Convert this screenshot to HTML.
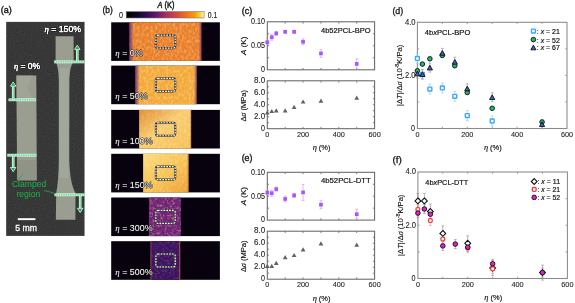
<!DOCTYPE html>
<html><head><meta charset="utf-8"><style>
html,body{margin:0;padding:0;background:#fff;width:575px;height:303px;overflow:hidden}
svg{display:block;will-change:transform}
text{-webkit-font-smoothing:antialiased}
</style></head><body>
<svg width="575" height="303" viewBox="0 0 575 303" font-family='"Liberation Sans", sans-serif'>
<defs>
<linearGradient id="inferno" x1="0" x2="1" y1="0" y2="0">
<stop offset="0" stop-color="#000004"/>
<stop offset="0.15" stop-color="#100828"/>
<stop offset="0.28" stop-color="#3a0c5a"/>
<stop offset="0.4" stop-color="#6a1a6a"/>
<stop offset="0.5" stop-color="#a52c60"/>
<stop offset="0.63" stop-color="#cf4446"/>
<stop offset="0.75" stop-color="#ed6925"/>
<stop offset="0.88" stop-color="#fb9b06"/>
<stop offset="0.95" stop-color="#f7d13d"/>
<stop offset="1" stop-color="#fcffa4"/>
</linearGradient>
<filter id="noise" x="0" y="0" width="100%" height="100%">
<feTurbulence type="fractalNoise" baseFrequency="0.9" numOctaves="2" seed="3"/>
<feColorMatrix type="matrix" values="0 0 0 0 0  0 0 0 0 0  0 0 0 0 0  0 0 0 -1.2 1.1"/>
<feComposite in2="SourceGraphic" operator="in"/>
</filter>
<linearGradient id="ledge" x1="0" x2="1"><stop offset="0" stop-color="#6a2a9a" stop-opacity="0.9"/><stop offset="1" stop-color="#6a2a9a" stop-opacity="0"/></linearGradient>
<linearGradient id="redge" x1="1" x2="0"><stop offset="0" stop-color="#7a2a8a" stop-opacity="0.8"/><stop offset="1" stop-color="#7a2a8a" stop-opacity="0"/></linearGradient>
<linearGradient id="hl2" x1="0" y1="0" x2="1" y2="1"><stop offset="0" stop-color="#d88030" stop-opacity="0.5"/><stop offset="0.45" stop-color="#ffe890" stop-opacity="0.6"/><stop offset="1" stop-color="#ffe070" stop-opacity="0.5"/></linearGradient>
<linearGradient id="hl3" x1="0" y1="0" x2="1" y2="1"><stop offset="0" stop-color="#fff0a0" stop-opacity="0.7"/><stop offset="0.5" stop-color="#ffe080" stop-opacity="0.35"/><stop offset="1" stop-color="#e88020" stop-opacity="0.4"/></linearGradient>
<filter id="noise3" x="0" y="0" width="100%" height="100%">
<feTurbulence type="fractalNoise" baseFrequency="0.4" numOctaves="2" seed="11"/>
<feColorMatrix type="matrix" values="0 0 0 0 0.92  0 0 0 0 0.4  0 0 0 0 0.28  0 0 0 -2.5 1.4"/>
<feComposite in2="SourceGraphic" operator="in"/>
</filter>
<filter id="noise2" x="0" y="0" width="100%" height="100%">
<feTurbulence type="fractalNoise" baseFrequency="0.45 0.3" numOctaves="2" seed="7"/>
<feColorMatrix type="matrix" values="0 0 0 0 1  0 0 0 0 0.97  0 0 0 0 0.7  0 0 0 -2.2 1.3"/>
<feComposite in2="SourceGraphic" operator="in"/>
</filter>
</defs>
<text x="0.80" y="13.42" font-size="9" text-anchor="start" fill="#111" stroke="#111" stroke-width="0.35" textLength="11.1" lengthAdjust="spacingAndGlyphs" >(a)</text>
<rect x="6.2" y="21.9" width="78.3" height="214" fill="#424242"/>
<rect x="6.2" y="21.9" width="78.3" height="214" fill="#000" filter="url(#noise)" opacity="0.3"/>
<polygon points="16.3,75.4 36.3,75.4 36.8,180.6 17.2,180.6" fill="#999e91"/>
<polygon points="16.6,75.6 33,75.6 27,88 33,100 16.8,100" fill="#a4a99c" opacity="0.55"/>
<polygon points="17,160 36,160 36.5,180 17.2,180" fill="#858a7d" opacity="0.5"/>
<path d="M55.6,36.3 L73.6,36.3 L73.6,62 Q69.8,66 69.4,80 L69.3,160 Q70,184 75.5,193 L75.4,219.8 L55.8,219.8 L56.2,193 Q58.5,182 58.8,160 L58.8,80 Q58.4,66 55.6,62 Z" fill="#999e91"/>
<rect x="59.5" y="68" width="9" height="110" fill="#b4b6b2" opacity="0.35"/>
<line x1="8.6" y1="99.8" x2="35.8" y2="99.8" stroke="#e4fbec" stroke-width="2.8"/>
<line x1="8.6" y1="99.8" x2="35.8" y2="99.8" stroke="#6fdc98" stroke-width="1.6"/>
<line x1="9.6" y1="99.8" x2="35.8" y2="99.8" stroke="#ffffff" stroke-width="0.9" stroke-dasharray="1 1.3"/>
<line x1="7.3" y1="155.2" x2="36.3" y2="155.2" stroke="#e4fbec" stroke-width="2.8"/>
<line x1="7.3" y1="155.2" x2="36.3" y2="155.2" stroke="#6fdc98" stroke-width="1.6"/>
<line x1="8.3" y1="155.2" x2="36.3" y2="155.2" stroke="#ffffff" stroke-width="0.9" stroke-dasharray="1 1.3"/>
<line x1="54" y1="61.9" x2="84.5" y2="61.9" stroke="#e4fbec" stroke-width="2.8"/>
<line x1="54" y1="61.9" x2="84.5" y2="61.9" stroke="#6fdc98" stroke-width="1.6"/>
<line x1="55" y1="61.9" x2="84.5" y2="61.9" stroke="#ffffff" stroke-width="0.9" stroke-dasharray="1 1.3"/>
<line x1="54.5" y1="194.8" x2="84.5" y2="194.8" stroke="#e4fbec" stroke-width="2.8"/>
<line x1="54.5" y1="194.8" x2="84.5" y2="194.8" stroke="#6fdc98" stroke-width="1.6"/>
<line x1="55.5" y1="194.8" x2="84.5" y2="194.8" stroke="#ffffff" stroke-width="0.9" stroke-dasharray="1 1.3"/>
<line x1="13.2" y1="99.8" x2="13.2" y2="86.2" stroke="#e4fbec" stroke-width="2.6"/>
<line x1="13.2" y1="99.8" x2="13.2" y2="86.2" stroke="#6fe49c" stroke-width="1.3"/>
<polygon points="10.5,86.2 15.899999999999999,86.2 13.2,82" fill="#10a855" stroke="#e4fbec" stroke-width="0.8" stroke-linejoin="round"/>
<line x1="13.2" y1="155.2" x2="13.2" y2="167.5" stroke="#e4fbec" stroke-width="2.6"/>
<line x1="13.2" y1="155.2" x2="13.2" y2="167.5" stroke="#6fe49c" stroke-width="1.3"/>
<polygon points="10.5,167.5 15.899999999999999,167.5 13.2,171.7" fill="#10a855" stroke="#e4fbec" stroke-width="0.8" stroke-linejoin="round"/>
<line x1="77.3" y1="61.9" x2="77.3" y2="49.400000000000006" stroke="#e4fbec" stroke-width="2.6"/>
<line x1="77.3" y1="61.9" x2="77.3" y2="49.400000000000006" stroke="#6fe49c" stroke-width="1.3"/>
<polygon points="74.6,49.400000000000006 80.0,49.400000000000006 77.3,45.2" fill="#10a855" stroke="#e4fbec" stroke-width="0.8" stroke-linejoin="round"/>
<line x1="80.2" y1="194.8" x2="80.2" y2="208.3" stroke="#e4fbec" stroke-width="2.6"/>
<line x1="80.2" y1="194.8" x2="80.2" y2="208.3" stroke="#6fe49c" stroke-width="1.3"/>
<polygon points="77.5,208.3 82.9,208.3 80.2,212.5" fill="#10a855" stroke="#e4fbec" stroke-width="0.8" stroke-linejoin="round"/>
<g fill="#fff" stroke="#151515" stroke-width="1.4" paint-order="stroke" stroke-linejoin="round">
<text x="13.9" y="68.7" font-size="8.6" textLength="26.3" lengthAdjust="spacingAndGlyphs"><tspan font-family="Liberation Serif" font-style="italic">η</tspan> = 0%</text>
<text x="13.9" y="68.7" font-size="8.6" textLength="26.3" lengthAdjust="spacingAndGlyphs" stroke="#fff" stroke-width="0.3"><tspan font-family="Liberation Serif" font-style="italic">η</tspan> = 0%</text>
<text x="44.5" y="31.6" font-size="8.6" textLength="36.6" lengthAdjust="spacingAndGlyphs"><tspan font-family="Liberation Serif" font-style="italic">η</tspan> = 150%</text>
<text x="44.5" y="31.6" font-size="8.6" textLength="36.6" lengthAdjust="spacingAndGlyphs" stroke="#fff" stroke-width="0.3"><tspan font-family="Liberation Serif" font-style="italic">η</tspan> = 150%</text>
</g>
<text x="11.90" y="187.28" font-size="8.6" text-anchor="start" fill="#20a84a" stroke="#20a84a" stroke-width="0.1" textLength="34.3" lengthAdjust="spacingAndGlyphs" >Clamped</text>
<text x="28.40" y="197.48" font-size="8.6" text-anchor="middle" fill="#20a84a" stroke="#20a84a" stroke-width="0.1" textLength="23.8" lengthAdjust="spacingAndGlyphs" >region</text>
<line x1="18.5" y1="180" x2="23" y2="173.5" stroke="#22aa48" stroke-width="0.7"/>
<line x1="44" y1="190.5" x2="54" y2="193" stroke="#22aa48" stroke-width="0.8"/>
<rect x="17.8" y="218.2" width="17.6" height="1.9" fill="#fff"/>
<text x="15.20" y="230.82" font-size="9" text-anchor="start" fill="#fff" stroke="#fff" stroke-width="0.3" textLength="21.7" lengthAdjust="spacingAndGlyphs" >5 mm</text>
<text x="102.40" y="13.12" font-size="9" text-anchor="start" fill="#111" stroke="#111" stroke-width="0.3" textLength="10.4" lengthAdjust="spacingAndGlyphs" >(b)</text>
<text x="157.6" y="8.4" font-size="8.5" textLength="16.8" lengthAdjust="spacingAndGlyphs" stroke="#111" stroke-width="0.4"><tspan font-style="italic">A</tspan> (K)</text>
<rect x="126.2" y="11.6" width="77.9" height="6.4" fill="url(#inferno)" stroke="#777" stroke-width="0.6"/>
<text x="119.00" y="18.08" font-size="8.6" text-anchor="start" fill="#111" stroke="#111" stroke-width="0.1" textLength="4.0" lengthAdjust="spacingAndGlyphs" >0</text>
<text x="207.80" y="18.08" font-size="8.6" text-anchor="start" fill="#111" stroke="#111" stroke-width="0.1" textLength="9.5" lengthAdjust="spacingAndGlyphs" >0.1</text>
<rect x="111.2" y="22.3" width="108.7" height="38.6" fill="#07020e"/>
<rect x="129.6" y="22.3" width="71.70" height="38.6" fill="#e97f2a"/>
<rect x="129.6" y="22.3" width="71.70" height="38.6" fill="#fff8b0" filter="url(#noise2)" opacity="0.35"/>
<rect x="129.6" y="22.3" width="4" height="38.6" fill="url(#ledge)"/>
<rect x="198.80" y="22.3" width="2.5" height="38.6" fill="url(#redge)"/>
<rect x="155.9" y="35.10" width="19.3" height="13" rx="2" fill="none" stroke="#333" stroke-width="2.1"/>
<rect x="155.9" y="35.10" width="19.3" height="13" rx="2" fill="none" stroke="#fff" stroke-width="1.15" stroke-dasharray="1.7 1.1"/>
<text x="115.3" y="56.00" font-size="8.9" fill="#fff" stroke="#1a1a1a" stroke-width="1.0" paint-order="stroke" stroke-linejoin="round"><tspan font-family="Liberation Serif" font-style="italic">η</tspan> = 0%</text>
<rect x="111.2" y="65.6" width="108.7" height="38.6" fill="#07020e"/>
<rect x="135.6" y="65.6" width="60.90" height="38.6" fill="#f3a838"/>
<rect x="135.6" y="65.6" width="60.90" height="38.6" fill="#fff8b0" filter="url(#noise2)" opacity="0.4"/>
<rect x="135.6" y="65.6" width="4" height="38.6" fill="url(#ledge)"/>
<rect x="194.00" y="65.6" width="2.5" height="38.6" fill="url(#redge)"/>
<rect x="155.9" y="78.40" width="19.3" height="13" rx="2" fill="none" stroke="#333" stroke-width="2.1"/>
<rect x="155.9" y="78.40" width="19.3" height="13" rx="2" fill="none" stroke="#fff" stroke-width="1.15" stroke-dasharray="1.7 1.1"/>
<text x="115.3" y="99.30" font-size="8.9" fill="#fff" stroke="#1a1a1a" stroke-width="1.0" paint-order="stroke" stroke-linejoin="round"><tspan font-family="Liberation Serif" font-style="italic">η</tspan> = 50%</text>
<rect x="111.2" y="109.9" width="108.7" height="38.6" fill="#07020e"/>
<rect x="139.2" y="109.9" width="51.90" height="38.6" fill="#eea040"/>
<rect x="139.2" y="109.9" width="51.90" height="38.6" fill="#fff8b0" filter="url(#noise2)" opacity="0.45"/>
<rect x="139.2" y="109.9" width="51.90" height="38.6" fill="url(#hl2)"/>
<rect x="189.60" y="109.9" width="1.5" height="38.6" fill="url(#redge)" opacity="0.6"/>
<rect x="155.9" y="122.70" width="19.3" height="13" rx="2" fill="none" stroke="#333" stroke-width="2.1"/>
<rect x="155.9" y="122.70" width="19.3" height="13" rx="2" fill="none" stroke="#fff" stroke-width="1.15" stroke-dasharray="1.7 1.1"/>
<text x="115.3" y="143.60" font-size="8.9" fill="#fff" stroke="#1a1a1a" stroke-width="1.0" paint-order="stroke" stroke-linejoin="round"><tspan font-family="Liberation Serif" font-style="italic">η</tspan> = 100%</text>
<rect x="111.2" y="153.8" width="108.7" height="38.6" fill="#07020e"/>
<rect x="143.2" y="153.8" width="45.30" height="38.6" fill="#f2b440"/>
<rect x="143.2" y="153.8" width="45.30" height="38.6" fill="#fff8b0" filter="url(#noise2)" opacity="0.4"/>
<rect x="143.2" y="153.8" width="45.30" height="38.6" fill="url(#hl3)"/>
<rect x="187.00" y="153.8" width="1.5" height="38.6" fill="url(#redge)" opacity="0.6"/>
<rect x="155.9" y="166.60" width="19.3" height="13" rx="2" fill="none" stroke="#333" stroke-width="2.1"/>
<rect x="155.9" y="166.60" width="19.3" height="13" rx="2" fill="none" stroke="#fff" stroke-width="1.15" stroke-dasharray="1.7 1.1"/>
<text x="115.3" y="187.50" font-size="8.9" fill="#fff" stroke="#1a1a1a" stroke-width="1.0" paint-order="stroke" stroke-linejoin="round"><tspan font-family="Liberation Serif" font-style="italic">η</tspan> = 150%</text>
<rect x="111.2" y="197.5" width="108.7" height="38.6" fill="#07020e"/>
<rect x="148.9" y="197.5" width="32.00" height="38.6" fill="#6a2278"/>
<rect x="148.9" y="197.5" width="32.00" height="38.6" fill="#fff8b0" filter="url(#noise2)" opacity="0.0"/>
<rect x="148.9" y="197.5" width="32.00" height="38.6" fill="#e8603a" filter="url(#noise3)" opacity="0.55"/>
<rect x="155.9" y="210.30" width="19.3" height="13" rx="2" fill="none" stroke="#333" stroke-width="2.1"/>
<rect x="155.9" y="210.30" width="19.3" height="13" rx="2" fill="none" stroke="#fff" stroke-width="1.15" stroke-dasharray="1.7 1.1"/>
<text x="115.3" y="231.20" font-size="8.9" fill="#fff" stroke="#1a1a1a" stroke-width="1.0" paint-order="stroke" stroke-linejoin="round"><tspan font-family="Liberation Serif" font-style="italic">η</tspan> = 300%</text>
<rect x="111.2" y="241.2" width="108.7" height="38.6" fill="#07020e"/>
<rect x="150.5" y="241.2" width="29.70" height="38.6" fill="#3a1462"/>
<rect x="150.5" y="241.2" width="29.70" height="38.6" fill="#fff8b0" filter="url(#noise2)" opacity="0.0"/>
<rect x="150.5" y="241.2" width="29.70" height="38.6" fill="#a03070" filter="url(#noise3)" opacity="0.22"/>
<rect x="150.5" y="241.2" width="0.9" height="38.6" fill="#a03a50"/>
<rect x="179.30" y="241.2" width="0.9" height="38.6" fill="#c05a48"/>
<rect x="155.9" y="254.00" width="19.3" height="13" rx="2" fill="none" stroke="#333" stroke-width="2.1"/>
<rect x="155.9" y="254.00" width="19.3" height="13" rx="2" fill="none" stroke="#fff" stroke-width="1.15" stroke-dasharray="1.7 1.1"/>
<text x="115.3" y="274.90" font-size="8.9" fill="#fff" stroke="#1a1a1a" stroke-width="1.0" paint-order="stroke" stroke-linejoin="round"><tspan font-family="Liberation Serif" font-style="italic">η</tspan> = 500%</text>
<text x="241.70" y="13.72" font-size="9" text-anchor="start" fill="#111" stroke="#111" stroke-width="0.35" textLength="10.5" lengthAdjust="spacingAndGlyphs" >(c)</text>
<text x="241.70" y="161.12" font-size="9" text-anchor="start" fill="#111" stroke="#111" stroke-width="0.35" textLength="10.7" lengthAdjust="spacingAndGlyphs" >(e)</text>
<rect x="267.3" y="21.8" width="107.30" height="48.00" fill="none" stroke="#666" stroke-width="1.05"/>
<path d="M285.18,69.8v-1.8M285.18,21.8v1.8M303.07,69.8v-1.8M303.07,21.8v1.8M320.95,69.8v-1.8M320.95,21.8v1.8M338.83,69.8v-1.8M338.83,21.8v1.8M356.72,69.8v-1.8M356.72,21.8v1.8M267.3,33.80h1.8M374.6,33.80h-1.8M267.3,45.80h1.8M374.6,45.80h-1.8M267.3,57.80h1.8M374.6,57.80h-1.8" stroke="#666" stroke-width="0.8" fill="none"/>
<text x="265.10" y="24.11" font-size="8.4" text-anchor="end" fill="#1e1e1e" stroke="#1e1e1e" stroke-width="0.1" textLength="14" lengthAdjust="spacingAndGlyphs" >0.10</text>
<text x="265.10" y="48.11" font-size="8.4" text-anchor="end" fill="#1e1e1e" stroke="#1e1e1e" stroke-width="0.1" textLength="14" lengthAdjust="spacingAndGlyphs" >0.05</text>
<text x="264.90" y="72.01" font-size="8.4" text-anchor="end" fill="#1e1e1e" stroke="#1e1e1e" stroke-width="0.1" textLength="4.0" lengthAdjust="spacingAndGlyphs" >0</text>
<text transform="translate(246.3,45.80) rotate(-90)" font-size="8" text-anchor="middle" stroke="#111" stroke-width="0.15" fill="#111"><tspan font-style="italic">A</tspan> (K)</text>
<rect x="267.3" y="172.3" width="107.30" height="47.80" fill="none" stroke="#666" stroke-width="1.05"/>
<path d="M285.18,220.1v-1.8M285.18,172.3v1.8M303.07,220.1v-1.8M303.07,172.3v1.8M320.95,220.1v-1.8M320.95,172.3v1.8M338.83,220.1v-1.8M338.83,172.3v1.8M356.72,220.1v-1.8M356.72,172.3v1.8M267.3,184.25h1.8M374.6,184.25h-1.8M267.3,196.20h1.8M374.6,196.20h-1.8M267.3,208.15h1.8M374.6,208.15h-1.8" stroke="#666" stroke-width="0.8" fill="none"/>
<text x="265.10" y="174.61" font-size="8.4" text-anchor="end" fill="#1e1e1e" stroke="#1e1e1e" stroke-width="0.1" textLength="14" lengthAdjust="spacingAndGlyphs" >0.10</text>
<text x="265.10" y="198.51" font-size="8.4" text-anchor="end" fill="#1e1e1e" stroke="#1e1e1e" stroke-width="0.1" textLength="14" lengthAdjust="spacingAndGlyphs" >0.05</text>
<text x="264.90" y="222.31" font-size="8.4" text-anchor="end" fill="#1e1e1e" stroke="#1e1e1e" stroke-width="0.1" textLength="4.0" lengthAdjust="spacingAndGlyphs" >0</text>
<text transform="translate(246.3,196.20) rotate(-90)" font-size="8" text-anchor="middle" stroke="#111" stroke-width="0.15" fill="#111"><tspan font-style="italic">A</tspan> (K)</text>
<rect x="267.3" y="80.8" width="107.30" height="47.90" fill="none" stroke="#666" stroke-width="1.05"/>
<path d="M285.18,128.7v-1.8M285.18,80.8v1.8M303.07,128.7v-1.8M303.07,80.8v1.8M320.95,128.7v-1.8M320.95,80.8v1.8M338.83,128.7v-1.8M338.83,80.8v1.8M356.72,128.7v-1.8M356.72,80.8v1.8M267.3,86.79h1.8M374.6,86.79h-1.8M267.3,92.77h1.8M374.6,92.77h-1.8M267.3,98.76h1.8M374.6,98.76h-1.8M267.3,104.75h1.8M374.6,104.75h-1.8M267.3,110.74h1.8M374.6,110.74h-1.8M267.3,116.72h1.8M374.6,116.72h-1.8M267.3,122.71h1.8M374.6,122.71h-1.8" stroke="#666" stroke-width="0.8" fill="none"/>
<text x="265.30" y="83.01" font-size="8.4" text-anchor="end" fill="#1e1e1e" stroke="#1e1e1e" stroke-width="0.1" textLength="11.2" lengthAdjust="spacingAndGlyphs" >8.0</text>
<text x="265.30" y="94.98" font-size="8.4" text-anchor="end" fill="#1e1e1e" stroke="#1e1e1e" stroke-width="0.1" textLength="11.2" lengthAdjust="spacingAndGlyphs" >6.0</text>
<text x="265.30" y="106.96" font-size="8.4" text-anchor="end" fill="#1e1e1e" stroke="#1e1e1e" stroke-width="0.1" textLength="11.2" lengthAdjust="spacingAndGlyphs" >4.0</text>
<text x="265.30" y="118.93" font-size="8.4" text-anchor="end" fill="#1e1e1e" stroke="#1e1e1e" stroke-width="0.1" textLength="11.2" lengthAdjust="spacingAndGlyphs" >2.0</text>
<text x="264.90" y="130.91" font-size="8.4" text-anchor="end" fill="#1e1e1e" stroke="#1e1e1e" stroke-width="0.1" textLength="4.0" lengthAdjust="spacingAndGlyphs" >0</text>
<text transform="translate(246.4,105.75) rotate(-90)" font-size="7.8" text-anchor="middle" fill="#111" stroke="#111" stroke-width="0.15" textLength="31.6" lengthAdjust="spacingAndGlyphs">Δ<tspan font-family="Liberation Serif" font-style="italic">σ</tspan> (MPa)</text>
<text x="267.30" y="136.56" font-size="8" text-anchor="middle" fill="#1e1e1e" stroke="#1e1e1e" stroke-width="0.1" textLength="4.0" lengthAdjust="spacingAndGlyphs" >0</text>
<text x="303.07" y="136.56" font-size="8" text-anchor="middle" fill="#1e1e1e" stroke="#1e1e1e" stroke-width="0.1" textLength="12.2" lengthAdjust="spacingAndGlyphs" >200</text>
<text x="338.83" y="136.56" font-size="8" text-anchor="middle" fill="#1e1e1e" stroke="#1e1e1e" stroke-width="0.1" textLength="12.2" lengthAdjust="spacingAndGlyphs" >400</text>
<text x="374.60" y="136.56" font-size="8" text-anchor="middle" fill="#1e1e1e" stroke="#1e1e1e" stroke-width="0.1" textLength="12.2" lengthAdjust="spacingAndGlyphs" >600</text>
<text x="321.55" y="150.10" font-size="8" text-anchor="middle" fill="#222" stroke="#222" stroke-width="0.2" textLength="17.8" lengthAdjust="spacingAndGlyphs"><tspan font-family="Liberation Serif" font-style="italic" font-size="9">η</tspan> (%)</text>
<rect x="267.3" y="231.2" width="107.30" height="48.00" fill="none" stroke="#666" stroke-width="1.05"/>
<path d="M285.18,279.2v-1.8M285.18,231.2v1.8M303.07,279.2v-1.8M303.07,231.2v1.8M320.95,279.2v-1.8M320.95,231.2v1.8M338.83,279.2v-1.8M338.83,231.2v1.8M356.72,279.2v-1.8M356.72,231.2v1.8M267.3,237.20h1.8M374.6,237.20h-1.8M267.3,243.20h1.8M374.6,243.20h-1.8M267.3,249.20h1.8M374.6,249.20h-1.8M267.3,255.20h1.8M374.6,255.20h-1.8M267.3,261.20h1.8M374.6,261.20h-1.8M267.3,267.20h1.8M374.6,267.20h-1.8M267.3,273.20h1.8M374.6,273.20h-1.8" stroke="#666" stroke-width="0.8" fill="none"/>
<text x="265.30" y="233.41" font-size="8.4" text-anchor="end" fill="#1e1e1e" stroke="#1e1e1e" stroke-width="0.1" textLength="11.2" lengthAdjust="spacingAndGlyphs" >8.0</text>
<text x="265.30" y="245.41" font-size="8.4" text-anchor="end" fill="#1e1e1e" stroke="#1e1e1e" stroke-width="0.1" textLength="11.2" lengthAdjust="spacingAndGlyphs" >6.0</text>
<text x="265.30" y="257.41" font-size="8.4" text-anchor="end" fill="#1e1e1e" stroke="#1e1e1e" stroke-width="0.1" textLength="11.2" lengthAdjust="spacingAndGlyphs" >4.0</text>
<text x="265.30" y="269.41" font-size="8.4" text-anchor="end" fill="#1e1e1e" stroke="#1e1e1e" stroke-width="0.1" textLength="11.2" lengthAdjust="spacingAndGlyphs" >2.0</text>
<text x="264.90" y="281.41" font-size="8.4" text-anchor="end" fill="#1e1e1e" stroke="#1e1e1e" stroke-width="0.1" textLength="4.0" lengthAdjust="spacingAndGlyphs" >0</text>
<text transform="translate(246.4,256.20) rotate(-90)" font-size="7.8" text-anchor="middle" fill="#111" stroke="#111" stroke-width="0.15" textLength="31.6" lengthAdjust="spacingAndGlyphs">Δ<tspan font-family="Liberation Serif" font-style="italic">σ</tspan> (MPa)</text>
<text x="267.30" y="287.06" font-size="8" text-anchor="middle" fill="#1e1e1e" stroke="#1e1e1e" stroke-width="0.1" textLength="4.0" lengthAdjust="spacingAndGlyphs" >0</text>
<text x="303.07" y="287.06" font-size="8" text-anchor="middle" fill="#1e1e1e" stroke="#1e1e1e" stroke-width="0.1" textLength="12.2" lengthAdjust="spacingAndGlyphs" >200</text>
<text x="338.83" y="287.06" font-size="8" text-anchor="middle" fill="#1e1e1e" stroke="#1e1e1e" stroke-width="0.1" textLength="12.2" lengthAdjust="spacingAndGlyphs" >400</text>
<text x="374.60" y="287.06" font-size="8" text-anchor="middle" fill="#1e1e1e" stroke="#1e1e1e" stroke-width="0.1" textLength="12.2" lengthAdjust="spacingAndGlyphs" >600</text>
<text x="321.55" y="300.60" font-size="8" text-anchor="middle" fill="#222" stroke="#222" stroke-width="0.2" textLength="17.8" lengthAdjust="spacingAndGlyphs"><tspan font-family="Liberation Serif" font-style="italic" font-size="9">η</tspan> (%)</text>
<text x="370.70" y="32.86" font-size="8" text-anchor="end" fill="#111" stroke="#111" stroke-width="0.2" textLength="49.7" lengthAdjust="spacingAndGlyphs" >4b52PCL-BPO</text>
<text x="370.70" y="183.06" font-size="8" text-anchor="end" fill="#111" stroke="#111" stroke-width="0.2" textLength="49.7" lengthAdjust="spacingAndGlyphs" >4b52PCL-DTT</text>
<path d="M267.30,40.30V44.30M265.90,40.30h2.8M265.90,44.30h2.8" stroke="#c8a0f6" stroke-width="0.7" fill="none"/>
<rect x="265.45" y="40.45" width="3.7" height="3.7" fill="#a858f6"/>
<path d="M271.77,34.20V40.20M270.37,34.20h2.8M270.37,40.20h2.8" stroke="#c8a0f6" stroke-width="0.7" fill="none"/>
<rect x="269.92" y="35.35" width="3.7" height="3.7" fill="#a858f6"/>
<path d="M276.24,31.40V35.40M274.84,31.40h2.8M274.84,35.40h2.8" stroke="#c8a0f6" stroke-width="0.7" fill="none"/>
<rect x="274.39" y="31.55" width="3.7" height="3.7" fill="#a858f6"/>
<path d="M285.18,30.30V33.30M283.78,30.30h2.8M283.78,33.30h2.8" stroke="#c8a0f6" stroke-width="0.7" fill="none"/>
<rect x="283.33" y="29.95" width="3.7" height="3.7" fill="#a858f6"/>
<path d="M294.12,30.30V33.30M292.73,30.30h2.8M292.73,33.30h2.8" stroke="#c8a0f6" stroke-width="0.7" fill="none"/>
<rect x="292.27" y="29.95" width="3.7" height="3.7" fill="#a858f6"/>
<path d="M303.07,38.80V44.80M301.67,38.80h2.8M301.67,44.80h2.8" stroke="#c8a0f6" stroke-width="0.7" fill="none"/>
<rect x="301.22" y="39.95" width="3.7" height="3.7" fill="#a858f6"/>
<path d="M320.95,49.40V57.40M319.55,49.40h2.8M319.55,57.40h2.8" stroke="#c8a0f6" stroke-width="0.7" fill="none"/>
<rect x="319.10" y="51.55" width="3.7" height="3.7" fill="#a858f6"/>
<path d="M356.72,58.90V68.90M355.32,58.90h2.8M355.32,68.90h2.8" stroke="#c8a0f6" stroke-width="0.7" fill="none"/>
<rect x="354.87" y="62.05" width="3.7" height="3.7" fill="#a858f6"/>
<polygon points="264.90,114.61 269.70,114.61 267.30,110.39" fill="#636363"/>
<polygon points="269.37,113.11 274.17,113.11 271.77,108.89" fill="#636363"/>
<polygon points="273.84,112.51 278.64,112.51 276.24,108.29" fill="#636363"/>
<polygon points="282.78,112.51 287.58,112.51 285.18,108.29" fill="#636363"/>
<polygon points="291.73,109.01 296.52,109.01 294.12,104.79" fill="#636363"/>
<polygon points="300.67,103.61 305.47,103.61 303.07,99.39" fill="#636363"/>
<polygon points="318.55,102.81 323.35,102.81 320.95,98.59" fill="#636363"/>
<polygon points="354.32,99.81 359.12,99.81 356.72,95.59" fill="#636363"/>
<path d="M267.30,190.60V194.60M265.90,190.60h2.8M265.90,194.60h2.8" stroke="#c8a0f6" stroke-width="0.7" fill="none"/>
<rect x="265.45" y="190.75" width="3.7" height="3.7" fill="#a858f6"/>
<path d="M271.77,190.20V196.20M270.37,190.20h2.8M270.37,196.20h2.8" stroke="#c8a0f6" stroke-width="0.7" fill="none"/>
<rect x="269.92" y="191.35" width="3.7" height="3.7" fill="#a858f6"/>
<path d="M276.24,187.10V191.10M274.84,187.10h2.8M274.84,191.10h2.8" stroke="#c8a0f6" stroke-width="0.7" fill="none"/>
<rect x="274.39" y="187.25" width="3.7" height="3.7" fill="#a858f6"/>
<path d="M285.18,196.00V202.00M283.78,196.00h2.8M283.78,202.00h2.8" stroke="#c8a0f6" stroke-width="0.7" fill="none"/>
<rect x="283.33" y="197.15" width="3.7" height="3.7" fill="#a858f6"/>
<path d="M294.12,193.40V197.40M292.73,193.40h2.8M292.73,197.40h2.8" stroke="#c8a0f6" stroke-width="0.7" fill="none"/>
<rect x="292.27" y="193.55" width="3.7" height="3.7" fill="#a858f6"/>
<path d="M303.07,184.40V200.40M301.67,184.40h2.8M301.67,200.40h2.8" stroke="#c8a0f6" stroke-width="0.7" fill="none"/>
<rect x="301.22" y="190.55" width="3.7" height="3.7" fill="#a858f6"/>
<path d="M320.95,200.70V208.70M319.55,200.70h2.8M319.55,208.70h2.8" stroke="#c8a0f6" stroke-width="0.7" fill="none"/>
<rect x="319.10" y="202.85" width="3.7" height="3.7" fill="#a858f6"/>
<path d="M356.72,209.20V219.20M355.32,209.20h2.8M355.32,219.20h2.8" stroke="#c8a0f6" stroke-width="0.7" fill="none"/>
<rect x="354.87" y="212.35" width="3.7" height="3.7" fill="#a858f6"/>
<polygon points="264.90,267.91 269.70,267.91 267.30,263.69" fill="#636363"/>
<polygon points="269.37,267.91 274.17,267.91 271.77,263.69" fill="#636363"/>
<polygon points="273.84,265.01 278.64,265.01 276.24,260.79" fill="#636363"/>
<polygon points="282.78,259.21 287.58,259.21 285.18,254.99" fill="#636363"/>
<polygon points="291.73,257.11 296.52,257.11 294.12,252.89" fill="#636363"/>
<polygon points="300.67,251.41 305.47,251.41 303.07,247.19" fill="#636363"/>
<polygon points="318.55,245.51 323.35,245.51 320.95,241.29" fill="#636363"/>
<polygon points="354.32,246.71 359.12,246.71 356.72,242.49" fill="#636363"/>
<text x="392.40" y="13.68" font-size="8.6" text-anchor="start" fill="#111" stroke="#111" stroke-width="0.25" textLength="10.9" lengthAdjust="spacingAndGlyphs" >(d)</text>
<text x="392.40" y="163.08" font-size="8.6" text-anchor="start" fill="#111" stroke="#111" stroke-width="0.25" textLength="9.5" lengthAdjust="spacingAndGlyphs" >(f)</text>
<rect x="417.4" y="22.3" width="149.60" height="106.20" fill="none" stroke="#8a8a8a" stroke-width="1.05"/>
<path d="M442.33,128.5v-1.8M442.33,22.3v1.8M467.27,128.5v-1.8M467.27,22.3v1.8M492.20,128.5v-1.8M492.20,22.3v1.8M517.13,128.5v-1.8M517.13,22.3v1.8M542.07,128.5v-1.8M542.07,22.3v1.8M417.4,48.85h1.8M567.0,48.85h-1.8M417.4,75.40h1.8M567.0,75.40h-1.8M417.4,101.95h1.8M567.0,101.95h-1.8" stroke="#8a8a8a" stroke-width="0.8" fill="none"/>
<text x="415.50" y="24.71" font-size="8.4" text-anchor="end" fill="#1e1e1e" stroke="#1e1e1e" stroke-width="0.1" textLength="10.6" lengthAdjust="spacingAndGlyphs" >4.0</text>
<text x="415.50" y="77.81" font-size="8.4" text-anchor="end" fill="#1e1e1e" stroke="#1e1e1e" stroke-width="0.1" textLength="10.6" lengthAdjust="spacingAndGlyphs" >2.0</text>
<text x="415.10" y="130.91" font-size="8.4" text-anchor="end" fill="#1e1e1e" stroke="#1e1e1e" stroke-width="0.1" textLength="4.0" lengthAdjust="spacingAndGlyphs" >0</text>
<text x="417.40" y="136.66" font-size="8" text-anchor="middle" fill="#1e1e1e" stroke="#1e1e1e" stroke-width="0.1" textLength="4.0" lengthAdjust="spacingAndGlyphs" >0</text>
<text x="467.27" y="136.66" font-size="8" text-anchor="middle" fill="#1e1e1e" stroke="#1e1e1e" stroke-width="0.1" textLength="12.2" lengthAdjust="spacingAndGlyphs" >200</text>
<text x="517.13" y="136.66" font-size="8" text-anchor="middle" fill="#1e1e1e" stroke="#1e1e1e" stroke-width="0.1" textLength="12.2" lengthAdjust="spacingAndGlyphs" >400</text>
<text x="567.00" y="136.66" font-size="8" text-anchor="middle" fill="#1e1e1e" stroke="#1e1e1e" stroke-width="0.1" textLength="12.2" lengthAdjust="spacingAndGlyphs" >600</text>
<text x="492.80" y="149.90" font-size="8" text-anchor="middle" fill="#222" stroke="#222" stroke-width="0.2" textLength="17.8" lengthAdjust="spacingAndGlyphs"><tspan font-family="Liberation Serif" font-style="italic" font-size="9">η</tspan> (%)</text>
<text x="424.80" y="35.46" font-size="8" fill="#111" stroke="#111" stroke-width="0.2" textLength="45.5" lengthAdjust="spacingAndGlyphs">4b<tspan font-style="italic">x</tspan>PCL-BPO</text>
<text transform="translate(402.40,75.40) rotate(-90)" font-size="7.6" text-anchor="middle" fill="#111" stroke="#111" stroke-width="0.12">|Δ<tspan font-style="italic">T</tspan>|/Δ<tspan font-family="Liberation Serif" font-style="italic">σ</tspan> (10<tspan font-size="5.2" dy="-3">-8</tspan><tspan dy="3">K/Pa)</tspan></text>
<rect x="417.9" y="172.0" width="149.50" height="106.50" fill="none" stroke="#8a8a8a" stroke-width="1.05"/>
<path d="M442.82,278.5v-1.8M442.82,172.0v1.8M467.73,278.5v-1.8M467.73,172.0v1.8M492.65,278.5v-1.8M492.65,172.0v1.8M517.57,278.5v-1.8M517.57,172.0v1.8M542.48,278.5v-1.8M542.48,172.0v1.8M417.9,198.62h1.8M567.4,198.62h-1.8M417.9,225.25h1.8M567.4,225.25h-1.8M417.9,251.88h1.8M567.4,251.88h-1.8" stroke="#8a8a8a" stroke-width="0.8" fill="none"/>
<text x="416.00" y="174.41" font-size="8.4" text-anchor="end" fill="#1e1e1e" stroke="#1e1e1e" stroke-width="0.1" textLength="10.6" lengthAdjust="spacingAndGlyphs" >4.0</text>
<text x="416.00" y="227.66" font-size="8.4" text-anchor="end" fill="#1e1e1e" stroke="#1e1e1e" stroke-width="0.1" textLength="10.6" lengthAdjust="spacingAndGlyphs" >2.0</text>
<text x="415.60" y="280.91" font-size="8.4" text-anchor="end" fill="#1e1e1e" stroke="#1e1e1e" stroke-width="0.1" textLength="4.0" lengthAdjust="spacingAndGlyphs" >0</text>
<text x="417.90" y="286.66" font-size="8" text-anchor="middle" fill="#1e1e1e" stroke="#1e1e1e" stroke-width="0.1" textLength="4.0" lengthAdjust="spacingAndGlyphs" >0</text>
<text x="467.73" y="286.66" font-size="8" text-anchor="middle" fill="#1e1e1e" stroke="#1e1e1e" stroke-width="0.1" textLength="12.2" lengthAdjust="spacingAndGlyphs" >200</text>
<text x="517.57" y="286.66" font-size="8" text-anchor="middle" fill="#1e1e1e" stroke="#1e1e1e" stroke-width="0.1" textLength="12.2" lengthAdjust="spacingAndGlyphs" >400</text>
<text x="567.40" y="286.66" font-size="8" text-anchor="middle" fill="#1e1e1e" stroke="#1e1e1e" stroke-width="0.1" textLength="12.2" lengthAdjust="spacingAndGlyphs" >600</text>
<text x="493.25" y="299.90" font-size="8" text-anchor="middle" fill="#222" stroke="#222" stroke-width="0.2" textLength="17.8" lengthAdjust="spacingAndGlyphs"><tspan font-family="Liberation Serif" font-style="italic" font-size="9">η</tspan> (%)</text>
<text x="425.30" y="185.16" font-size="8" fill="#111" stroke="#111" stroke-width="0.2" textLength="43" lengthAdjust="spacingAndGlyphs">4b<tspan font-style="italic">x</tspan>PCL-DTT</text>
<text transform="translate(402.90,225.25) rotate(-90)" font-size="7.6" text-anchor="middle" fill="#111" stroke="#111" stroke-width="0.12">|Δ<tspan font-style="italic">T</tspan>|/Δ<tspan font-family="Liberation Serif" font-style="italic">σ</tspan> (10<tspan font-size="5.2" dy="-3">-8</tspan><tspan dy="3">K/Pa)</tspan></text>
<path d="M417.40,53.40V63.40M416.00,53.40h2.8M416.00,63.40h2.8" stroke="#90d0f8" stroke-width="0.7" fill="none"/>
<path d="M422.39,69.40V79.40M420.99,69.40h2.8M420.99,79.40h2.8" stroke="#90d0f8" stroke-width="0.7" fill="none"/>
<path d="M429.87,84.10V94.10M428.47,84.10h2.8M428.47,94.10h2.8" stroke="#90d0f8" stroke-width="0.7" fill="none"/>
<path d="M442.33,82.90V92.90M440.93,82.90h2.8M440.93,92.90h2.8" stroke="#90d0f8" stroke-width="0.7" fill="none"/>
<path d="M454.80,91.30V101.30M453.40,91.30h2.8M453.40,101.30h2.8" stroke="#90d0f8" stroke-width="0.7" fill="none"/>
<path d="M467.27,110.60V120.60M465.87,110.60h2.8M465.87,120.60h2.8" stroke="#90d0f8" stroke-width="0.7" fill="none"/>
<path d="M492.20,116.00V126.00M490.80,116.00h2.8M490.80,126.00h2.8" stroke="#90d0f8" stroke-width="0.7" fill="none"/>
<path d="M417.40,69.00V78.00M416.00,69.00h2.8M416.00,78.00h2.8" stroke="#9a9a9a" stroke-width="0.7" fill="none"/>
<path d="M422.39,69.70V78.70M420.99,69.70h2.8M420.99,78.70h2.8" stroke="#9a9a9a" stroke-width="0.7" fill="none"/>
<path d="M429.87,63.10V72.10M428.47,63.10h2.8M428.47,72.10h2.8" stroke="#9a9a9a" stroke-width="0.7" fill="none"/>
<path d="M442.33,48.40V57.40M440.93,48.40h2.8M440.93,57.40h2.8" stroke="#9a9a9a" stroke-width="0.7" fill="none"/>
<path d="M454.80,57.30V66.30M453.40,57.30h2.8M453.40,66.30h2.8" stroke="#9a9a9a" stroke-width="0.7" fill="none"/>
<path d="M467.27,84.00V93.00M465.87,84.00h2.8M465.87,93.00h2.8" stroke="#9a9a9a" stroke-width="0.7" fill="none"/>
<path d="M492.20,92.70V101.70M490.80,92.70h2.8M490.80,101.70h2.8" stroke="#9a9a9a" stroke-width="0.7" fill="none"/>
<path d="M542.07,119.70V128.70M540.67,119.70h2.8M540.67,128.70h2.8" stroke="#9a9a9a" stroke-width="0.7" fill="none"/>
<rect x="415.45" y="56.45" width="3.9" height="3.9" fill="#fff" stroke="#3aa8f2" stroke-width="1.4" rx="0.6"/>
<rect x="420.44" y="72.45" width="3.9" height="3.9" fill="#fff" stroke="#3aa8f2" stroke-width="1.4" rx="0.6"/>
<rect x="427.92" y="87.15" width="3.9" height="3.9" fill="#fff" stroke="#3aa8f2" stroke-width="1.4" rx="0.6"/>
<rect x="440.38" y="85.95" width="3.9" height="3.9" fill="#fff" stroke="#3aa8f2" stroke-width="1.4" rx="0.6"/>
<rect x="452.85" y="94.35" width="3.9" height="3.9" fill="#fff" stroke="#3aa8f2" stroke-width="1.4" rx="0.6"/>
<rect x="465.32" y="113.65" width="3.9" height="3.9" fill="#fff" stroke="#3aa8f2" stroke-width="1.4" rx="0.6"/>
<rect x="490.25" y="119.05" width="3.9" height="3.9" fill="#fff" stroke="#3aa8f2" stroke-width="1.4" rx="0.6"/>
<circle cx="417.40" cy="70.80" r="2.3" fill="#1cb46e" stroke="#111" stroke-width="0.9"/>
<circle cx="422.39" cy="64.10" r="2.3" fill="#1cb46e" stroke="#111" stroke-width="0.9"/>
<circle cx="429.87" cy="58.80" r="2.3" fill="#1cb46e" stroke="#111" stroke-width="0.9"/>
<circle cx="442.33" cy="55.40" r="2.3" fill="#1cb46e" stroke="#111" stroke-width="0.9"/>
<circle cx="454.80" cy="65.70" r="2.3" fill="#1cb46e" stroke="#111" stroke-width="0.9"/>
<circle cx="467.27" cy="92.50" r="2.3" fill="#1cb46e" stroke="#111" stroke-width="0.9"/>
<circle cx="492.20" cy="108.30" r="2.3" fill="#1cb46e" stroke="#111" stroke-width="0.9"/>
<circle cx="542.07" cy="122.00" r="2.3" fill="#1cb46e" stroke="#111" stroke-width="0.9"/>
<polygon points="414.80,75.84 420.00,75.84 417.40,71.16" fill="#3e5ad0" stroke="#111" stroke-width="0.9" stroke-linejoin="round"/>
<polygon points="419.79,76.54 424.99,76.54 422.39,71.86" fill="#3e5ad0" stroke="#111" stroke-width="0.9" stroke-linejoin="round"/>
<polygon points="427.27,69.94 432.47,69.94 429.87,65.26" fill="#3e5ad0" stroke="#111" stroke-width="0.9" stroke-linejoin="round"/>
<polygon points="439.73,55.24 444.93,55.24 442.33,50.56" fill="#3e5ad0" stroke="#111" stroke-width="0.9" stroke-linejoin="round"/>
<polygon points="452.20,64.14 457.40,64.14 454.80,59.46" fill="#3e5ad0" stroke="#111" stroke-width="0.9" stroke-linejoin="round"/>
<polygon points="464.67,90.84 469.87,90.84 467.27,86.16" fill="#3e5ad0" stroke="#111" stroke-width="0.9" stroke-linejoin="round"/>
<polygon points="489.60,99.54 494.80,99.54 492.20,94.86" fill="#3e5ad0" stroke="#111" stroke-width="0.9" stroke-linejoin="round"/>
<polygon points="539.47,126.54 544.67,126.54 542.07,121.86" fill="#3e5ad0" stroke="#111" stroke-width="0.9" stroke-linejoin="round"/>
<rect x="531.45" y="29.15" width="3.9" height="3.9" fill="#fff" stroke="#3aa8f2" stroke-width="1.4" rx="0.6"/>
<circle cx="533.40" cy="39.60" r="2.3" fill="#1cb46e" stroke="#111" stroke-width="0.9"/>
<polygon points="530.80,49.84 536.00,49.84 533.40,45.16" fill="#3e5ad0" stroke="#111" stroke-width="0.9" stroke-linejoin="round"/>
<text x="536.8" y="34.00" font-size="8" fill="#111" stroke="#111" stroke-width="0.2" textLength="23" lengthAdjust="spacingAndGlyphs">: <tspan font-style="italic">x</tspan> = 21</text>
<text x="536.8" y="42.50" font-size="8" fill="#111" stroke="#111" stroke-width="0.2" textLength="23" lengthAdjust="spacingAndGlyphs">: <tspan font-style="italic">x</tspan> = 52</text>
<text x="536.8" y="50.40" font-size="8" fill="#111" stroke="#111" stroke-width="0.2" textLength="23" lengthAdjust="spacingAndGlyphs">: <tspan font-style="italic">x</tspan> = 67</text>
<path d="M417.90,193.40V208.40M416.50,193.40h2.8M416.50,208.40h2.8" stroke="#9a9a9a" stroke-width="0.7" fill="none"/>
<path d="M424.38,193.40V208.40M422.98,193.40h2.8M422.98,208.40h2.8" stroke="#9a9a9a" stroke-width="0.7" fill="none"/>
<path d="M430.36,204.00V219.00M428.96,204.00h2.8M428.96,219.00h2.8" stroke="#9a9a9a" stroke-width="0.7" fill="none"/>
<path d="M442.82,225.90V240.90M441.42,225.90h2.8M441.42,240.90h2.8" stroke="#9a9a9a" stroke-width="0.7" fill="none"/>
<path d="M467.73,235.80V250.80M466.33,235.80h2.8M466.33,250.80h2.8" stroke="#9a9a9a" stroke-width="0.7" fill="none"/>
<path d="M492.65,260.50V275.50M491.25,260.50h2.8M491.25,275.50h2.8" stroke="#9a9a9a" stroke-width="0.7" fill="none"/>
<path d="M542.48,265.10V280.10M541.08,265.10h2.8M541.08,280.10h2.8" stroke="#9a9a9a" stroke-width="0.7" fill="none"/>
<path d="M417.90,208.60V217.60M416.50,208.60h2.8M416.50,217.60h2.8" stroke="#9a9a9a" stroke-width="0.7" fill="none"/>
<path d="M424.38,204.50V213.50M422.98,204.50h2.8M422.98,213.50h2.8" stroke="#9a9a9a" stroke-width="0.7" fill="none"/>
<path d="M430.36,209.70V218.70M428.96,209.70h2.8M428.96,218.70h2.8" stroke="#9a9a9a" stroke-width="0.7" fill="none"/>
<path d="M442.82,241.40V250.40M441.42,241.40h2.8M441.42,250.40h2.8" stroke="#9a9a9a" stroke-width="0.7" fill="none"/>
<path d="M455.27,239.60V248.60M453.88,239.60h2.8M453.88,248.60h2.8" stroke="#9a9a9a" stroke-width="0.7" fill="none"/>
<path d="M467.73,242.70V251.70M466.33,242.70h2.8M466.33,251.70h2.8" stroke="#9a9a9a" stroke-width="0.7" fill="none"/>
<path d="M492.65,259.30V268.30M491.25,259.30h2.8M491.25,268.30h2.8" stroke="#9a9a9a" stroke-width="0.7" fill="none"/>
<path d="M542.48,268.10V277.10M541.08,268.10h2.8M541.08,277.10h2.8" stroke="#9a9a9a" stroke-width="0.7" fill="none"/>
<path d="M417.90,204.50V214.50M416.50,204.50h2.8M416.50,214.50h2.8" stroke="#f4a0a0" stroke-width="0.7" fill="none"/>
<path d="M430.36,215.50V225.50M428.96,215.50h2.8M428.96,225.50h2.8" stroke="#f4a0a0" stroke-width="0.7" fill="none"/>
<path d="M442.82,234.00V244.00M441.42,234.00h2.8M441.42,244.00h2.8" stroke="#f4a0a0" stroke-width="0.7" fill="none"/>
<path d="M467.73,242.70V252.70M466.33,242.70h2.8M466.33,252.70h2.8" stroke="#f4a0a0" stroke-width="0.7" fill="none"/>
<path d="M492.65,263.80V273.80M491.25,263.80h2.8M491.25,273.80h2.8" stroke="#f4a0a0" stroke-width="0.7" fill="none"/>
<polygon points="417.90,198.00 420.80,200.90 417.90,203.80 415.00,200.90" fill="#fff" stroke="#111" stroke-width="1.1"/>
<polygon points="424.38,198.00 427.28,200.90 424.38,203.80 421.48,200.90" fill="#fff" stroke="#111" stroke-width="1.1"/>
<polygon points="430.36,208.60 433.26,211.50 430.36,214.40 427.46,211.50" fill="#fff" stroke="#111" stroke-width="1.1"/>
<polygon points="442.82,230.50 445.72,233.40 442.82,236.30 439.92,233.40" fill="#fff" stroke="#111" stroke-width="1.1"/>
<polygon points="467.73,240.40 470.63,243.30 467.73,246.20 464.83,243.30" fill="#fff" stroke="#111" stroke-width="1.1"/>
<polygon points="492.65,265.10 495.55,268.00 492.65,270.90 489.75,268.00" fill="#fff" stroke="#111" stroke-width="1.1"/>
<polygon points="542.48,269.70 545.38,272.60 542.48,275.50 539.58,272.60" fill="#fff" stroke="#111" stroke-width="1.1"/>
<rect x="416.00" y="207.60" width="3.8" height="3.8" fill="#fff" stroke="#f23c3c" stroke-width="1.3" rx="1.3"/>
<rect x="428.46" y="218.60" width="3.8" height="3.8" fill="#fff" stroke="#f23c3c" stroke-width="1.3" rx="1.3"/>
<rect x="440.92" y="237.10" width="3.8" height="3.8" fill="#fff" stroke="#f23c3c" stroke-width="1.3" rx="1.3"/>
<rect x="465.83" y="245.80" width="3.8" height="3.8" fill="#fff" stroke="#f23c3c" stroke-width="1.3" rx="1.3"/>
<rect x="490.75" y="266.90" width="3.8" height="3.8" fill="#fff" stroke="#f23c3c" stroke-width="1.3" rx="1.3"/>
<circle cx="417.90" cy="213.10" r="2.3" fill="#e41ec8" stroke="#111" stroke-width="0.9"/>
<circle cx="424.38" cy="209.00" r="2.3" fill="#e41ec8" stroke="#111" stroke-width="0.9"/>
<circle cx="430.36" cy="214.20" r="2.3" fill="#e41ec8" stroke="#111" stroke-width="0.9"/>
<circle cx="442.82" cy="245.90" r="2.3" fill="#e41ec8" stroke="#111" stroke-width="0.9"/>
<circle cx="455.27" cy="244.10" r="2.3" fill="#e41ec8" stroke="#111" stroke-width="0.9"/>
<circle cx="467.73" cy="247.20" r="2.3" fill="#e41ec8" stroke="#111" stroke-width="0.9"/>
<circle cx="492.65" cy="263.80" r="2.3" fill="#e41ec8" stroke="#111" stroke-width="0.9"/>
<circle cx="542.48" cy="272.60" r="2.3" fill="#e41ec8" stroke="#111" stroke-width="0.9"/>
<polygon points="534.20,178.60 537.10,181.50 534.20,184.40 531.30,181.50" fill="#fff" stroke="#111" stroke-width="1.1"/>
<rect x="532.30" y="187.50" width="3.8" height="3.8" fill="#fff" stroke="#f23c3c" stroke-width="1.3" rx="1.0"/>
<circle cx="534.20" cy="197.40" r="2.3" fill="#e41ec8" stroke="#111" stroke-width="0.9"/>
<text x="537.5" y="184.40" font-size="8" fill="#111" stroke="#111" stroke-width="0.2" textLength="22.5" lengthAdjust="spacingAndGlyphs">: <tspan font-style="italic">x</tspan> = 11</text>
<text x="537.5" y="192.30" font-size="8" fill="#111" stroke="#111" stroke-width="0.2" textLength="22.5" lengthAdjust="spacingAndGlyphs">: <tspan font-style="italic">x</tspan> = 21</text>
<text x="537.5" y="200.30" font-size="8" fill="#111" stroke="#111" stroke-width="0.2" textLength="22.5" lengthAdjust="spacingAndGlyphs">: <tspan font-style="italic">x</tspan> = 52</text>
</svg>
</body></html>
